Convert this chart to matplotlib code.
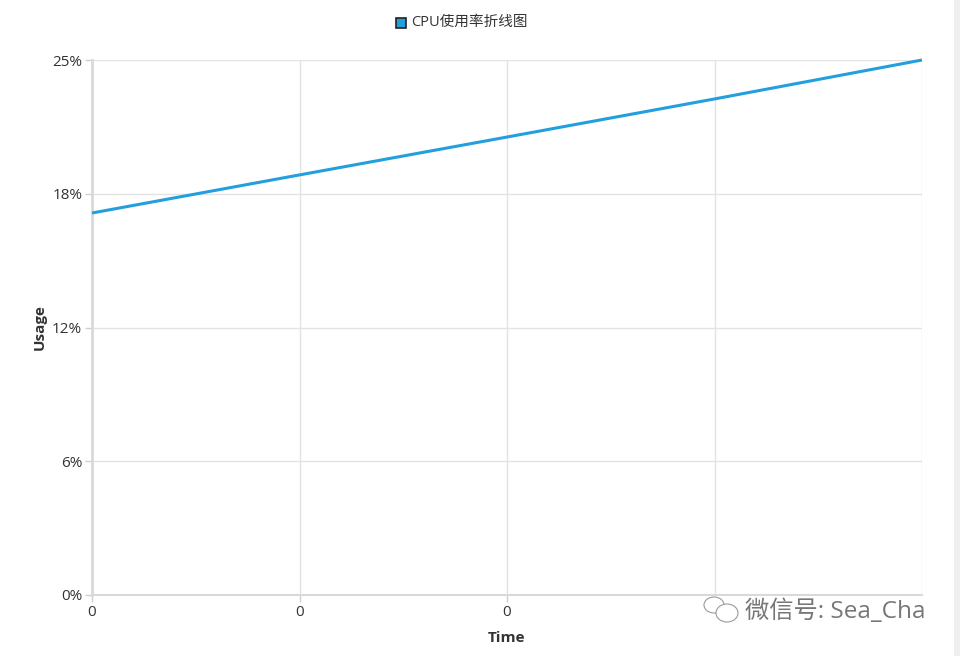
import matplotlib
matplotlib.use("Agg")
import matplotlib.pyplot as plt
from matplotlib.patches import Rectangle, Ellipse

plt.rcParams['font.family'] = ['Open Sans', 'Noto Sans CJK SC', 'DejaVu Sans']

series_name = "CPU使用率折线图"
x_labels = ["0", "0", "0", "0", "0"]
usage = [17.85, 19.63, 21.4, 23.18, 25.0]
y_ticks = [0, 6.25, 12.5, 18.75, 25]
y_tick_labels = ["0%", "6%", "12%", "18%", "25%"]
watermark = "微信号: Sea_Cha"

W, H = 960, 656
fig = plt.figure(figsize=(W / 100, H / 100), dpi=100)
ax = fig.add_axes([92 / W, 1 - 595 / H, (922 - 92) / W, (595 - 60) / H])

xs = list(range(len(usage)))
ax.plot(xs, usage, color="#239fde", lw=2.2, solid_capstyle="butt", zorder=3, clip_on=False)

ax.set_xlim(0, len(usage) - 1)
ax.set_ylim(0, 25)
ax.set_xticks(xs)
ax.set_xticklabels(x_labels)
ax.set_yticks(y_ticks)
ax.set_yticklabels(y_tick_labels)
ax.grid(True, color="#e3e3e3", lw=1)
ax.set_axisbelow(True)
ax.spines["top"].set_visible(False)
ax.spines["right"].set_visible(False)
ax.spines["left"].set_color("#d9d9d9")
ax.spines["left"].set_linewidth(2)
ax.spines["bottom"].set_color("#d9d9d9")
ax.spines["bottom"].set_linewidth(1.5)
ax.tick_params(axis="both", colors="#cfcfcf", labelcolor="#333333", labelsize=11, length=5, width=1)
ax.tick_params(axis="y", pad=2)
ax.tick_params(axis="x", pad=2)
# the last x tick labels lie under the watermark image in the reference
for lbl in ax.get_xticklabels()[3:]:
    lbl.set_visible(False)

ax.set_xlabel("Time", fontsize=11, fontweight="bold", color="#333333", labelpad=8)
ax.set_ylabel("Usage", fontsize=11, fontweight="bold", color="#333333", labelpad=4)

# legend
fig.patches.append(Rectangle((396 / W, 1 - 28 / H), 10 / W, 10 / H, transform=fig.transFigure,
                             facecolor="#239fde", edgecolor="#222222", lw=1.2))
fig.text(411 / W, 1 - 22 / H, series_name, fontsize=10.5, color="#333333", va="center", ha="left")

# watermark
fig.patches.append(Rectangle((700 / W, 1 - 630 / H), 228 / W, 34 / H, transform=fig.transFigure,
                             facecolor="white", edgecolor="none", zorder=10))
fig.patches.append(Ellipse((714 / W, 1 - 605 / H), 20 / W, 16 / H, transform=fig.transFigure,
                           facecolor="white", edgecolor="#9a9a9a", lw=0.8, zorder=11))
fig.patches.append(Ellipse((727 / W, 1 - 613 / H), 22 / W, 18 / H, transform=fig.transFigure,
                           facecolor="white", edgecolor="#9a9a9a", lw=0.8, zorder=11))
fig.text(745 / W, 1 - 612 / H, watermark, fontsize=17.5, color="#777777", va="center",
         ha="left", zorder=12)

# scrollbar strip
fig.patches.append(Rectangle((954 / W, 0), 6 / W, 1, transform=fig.transFigure,
                             facecolor="#efefef", edgecolor="none", zorder=12))

fig.savefig("out.png", dpi=100)
